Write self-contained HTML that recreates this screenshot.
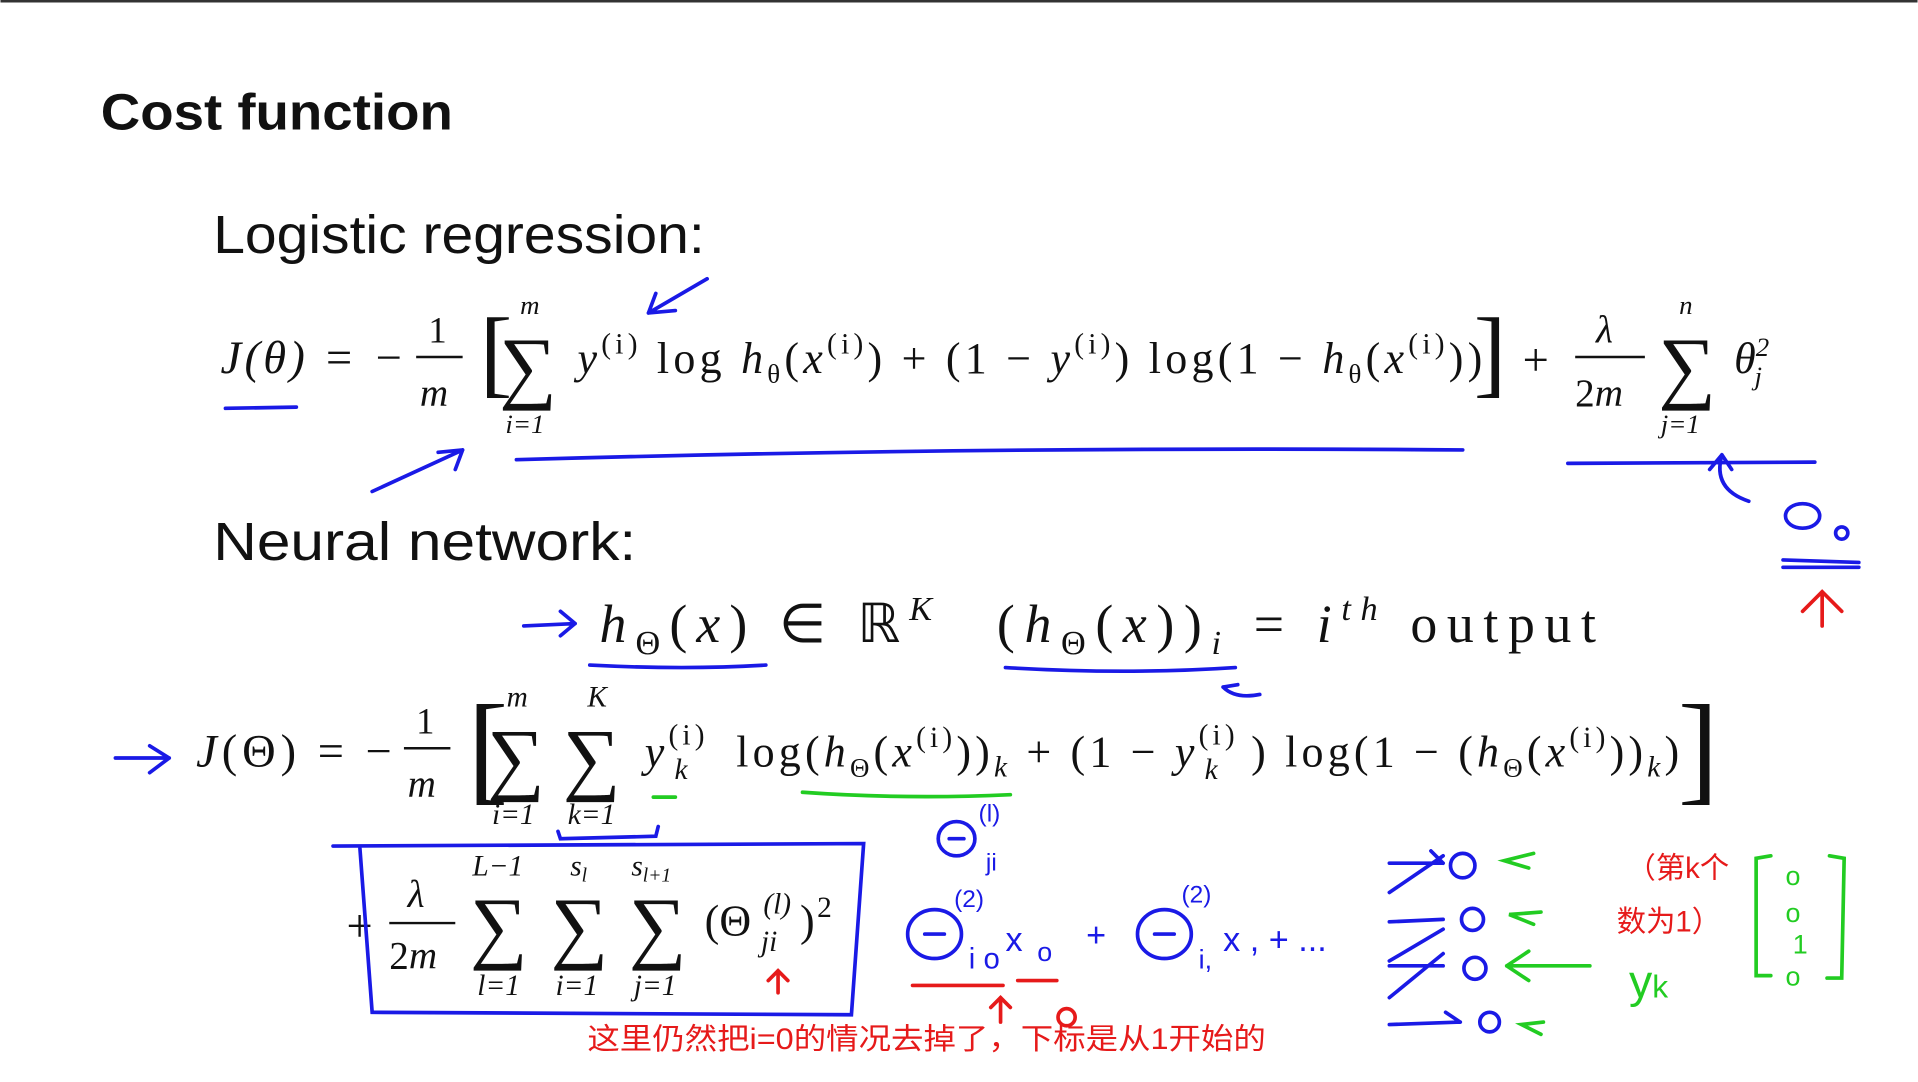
<!DOCTYPE html>
<html><head><meta charset="utf-8"><style>
html,body{margin:0;padding:0;background:#fff;}
svg{display:block}
.m{font-family:"Liberation Serif",serif;fill:#111}
.s{font-family:"Liberation Sans","DejaVu Sans",sans-serif;fill:#111}
.b{stroke:#1a1ae6;fill:none;stroke-width:3;stroke-linecap:round}
.g{stroke:#22cc22;fill:none;stroke-width:3;stroke-linecap:round}
.r{stroke:#e61a1a;fill:none;stroke-width:3;stroke-linecap:round}
</style></head><body>
<svg width="1918" height="1082" viewBox="0 0 1568 885" xmlns="http://www.w3.org/2000/svg">
<rect width="1568" height="885" fill="#fff"/>
<line x1="0" y1="1" x2="1568" y2="1" stroke="#333" stroke-width="2"/>
<text x="82" y="106" class="s" font-size="42" font-weight="bold" textLength="288" lengthAdjust="spacingAndGlyphs">Cost function</text>
<text x="174" y="207" class="s" font-size="44" textLength="402" lengthAdjust="spacingAndGlyphs">Logistic regression:</text>
<text x="174" y="458" class="s" font-size="44" textLength="346" lengthAdjust="spacingAndGlyphs">Neural network:</text>

<!-- logistic formula -->
<text x="180" y="305" class="m" font-size="38" font-style="italic" textLength="150" lengthAdjust="spacing">J(θ) = −</text>
<text x="350" y="280" class="m" font-size="30">1</text>
<line x1="340" y1="292" x2="378" y2="292" stroke="#111" stroke-width="2"/>
<text x="343" y="332" class="m" font-size="32" font-style="italic">m</text>
<text x="392" y="315" class="m" font-size="80" font-weight="100">[</text>
<text x="425" y="257" class="m" font-size="22" font-style="italic">m</text>
<text x="408" y="322" class="m" font-size="66">∑</text>
<text x="413" y="354" class="m" font-size="22" font-style="italic">i=1</text>
<text x="472" y="305" class="m" font-size="36" textLength="740" lengthAdjust="spacing"><tspan font-style="italic">y</tspan><tspan font-size="24" dy="-16">(i)</tspan><tspan dy="16"> log </tspan><tspan font-style="italic">h</tspan><tspan font-size="22" dy="8">θ</tspan><tspan dy="-8">(</tspan><tspan font-style="italic">x</tspan><tspan font-size="24" dy="-16">(i)</tspan><tspan dy="16">) + (1 − </tspan><tspan font-style="italic">y</tspan><tspan font-size="24" dy="-16">(i)</tspan><tspan dy="16">) log(1 − </tspan><tspan font-style="italic">h</tspan><tspan font-size="22" dy="8">θ</tspan><tspan dy="-8">(</tspan><tspan font-style="italic">x</tspan><tspan font-size="24" dy="-16">(i)</tspan><tspan dy="16">))</tspan></text>
<text x="1205" y="315" class="m" font-size="80">]</text>
<text x="1245" y="307" class="m" font-size="38">+</text>
<text x="1305" y="280" class="m" font-size="32" font-style="italic">λ</text>
<line x1="1288" y1="292" x2="1345" y2="292" stroke="#111" stroke-width="2"/>
<text x="1288" y="332" class="m" font-size="32">2<tspan font-style="italic">m</tspan></text>
<text x="1373" y="257" class="m" font-size="22" font-style="italic">n</text>
<text x="1356" y="322" class="m" font-size="66">∑</text>
<text x="1358" y="354" class="m" font-size="22" font-style="italic">j=1</text>
<text x="1418" y="305" class="m" font-size="36" font-style="italic">θ<tspan font-size="22" dy="-14">2</tspan><tspan font-size="22" dx="-12" dy="24">j</tspan></text>

<!-- h line -->
<text x="490" y="525" class="m" font-size="44" textLength="272" lengthAdjust="spacing"><tspan font-style="italic">h</tspan><tspan font-size="28" dy="10">Θ</tspan><tspan dy="-10">(</tspan><tspan font-style="italic">x</tspan>) ∈ ℝ<tspan font-size="28" dy="-18" font-style="italic">K</tspan></text>
<text x="815" y="525" class="m" font-size="44" textLength="490" lengthAdjust="spacing">(<tspan font-style="italic">h</tspan><tspan font-size="28" dy="10">Θ</tspan><tspan dy="-10">(</tspan><tspan font-style="italic">x</tspan>))<tspan font-size="28" dy="10" font-style="italic">i</tspan><tspan dy="-10"> = </tspan><tspan font-style="italic">i</tspan><tspan font-size="28" dy="-18" font-style="italic">th</tspan><tspan dy="18"> output</tspan></text>

<!-- NN formula -->
<text x="160" y="627" class="m" font-size="38" textLength="160" lengthAdjust="spacing"><tspan font-style="italic">J</tspan>(Θ) = −</text>
<text x="340" y="600" class="m" font-size="30">1</text>
<line x1="330" y1="612" x2="368" y2="612" stroke="#111" stroke-width="2"/>
<text x="333" y="652" class="m" font-size="32" font-style="italic">m</text>
<text x="382" y="645" class="m" font-size="100">[</text>
<text x="414" y="578" class="m" font-size="24" font-style="italic">m</text>
<text x="398" y="642" class="m" font-size="66">∑</text>
<text x="402" y="674" class="m" font-size="24" font-style="italic">i=1</text>
<text x="480" y="578" class="m" font-size="24" font-style="italic">K</text>
<text x="460" y="642" class="m" font-size="66">∑</text>
<text x="464" y="674" class="m" font-size="24" font-style="italic">k=1</text>
<text x="527" y="627" class="m" font-size="36" textLength="846" lengthAdjust="spacing"><tspan font-style="italic">y</tspan><tspan font-size="24" dy="-18">(i)</tspan><tspan font-size="24" font-style="italic" dx="-28" dy="28">k</tspan><tspan dx="24" dy="-10"> log(</tspan><tspan font-style="italic">h</tspan><tspan font-size="22" dy="8">Θ</tspan><tspan dy="-8">(</tspan><tspan font-style="italic">x</tspan><tspan font-size="24" dy="-16">(i)</tspan><tspan dy="16">))</tspan><tspan font-size="24" dy="8" font-style="italic">k</tspan><tspan dy="-8"> + (1 − </tspan><tspan font-style="italic">y</tspan><tspan font-size="24" dy="-18">(i)</tspan><tspan font-size="24" font-style="italic" dx="-28" dy="28">k</tspan><tspan dx="24" dy="-10">) log(1 − (</tspan><tspan font-style="italic">h</tspan><tspan font-size="22" dy="8">Θ</tspan><tspan dy="-8">(</tspan><tspan font-style="italic">x</tspan><tspan font-size="24" dy="-16">(i)</tspan><tspan dy="16">))</tspan><tspan font-size="24" dy="8" font-style="italic">k</tspan><tspan dy="-8">)</tspan></text>
<text x="1372" y="645" class="m" font-size="100">]</text>

<!-- reg term -->
<text x="283" y="770" class="m" font-size="38">+</text>
<text x="333" y="742" class="m" font-size="32" font-style="italic">λ</text>
<line x1="318" y1="755" x2="372" y2="755" stroke="#111" stroke-width="2"/>
<text x="318" y="792" class="m" font-size="32">2<tspan font-style="italic">m</tspan></text>
<text x="386" y="716" class="m" font-size="24" font-style="italic">L−1</text>
<text x="384" y="780" class="m" font-size="66">∑</text>
<text x="390" y="814" class="m" font-size="24" font-style="italic">l=1</text>
<text x="466" y="716" class="m" font-size="24" font-style="italic">s<tspan font-size="16" dy="5">l</tspan></text>
<text x="450" y="780" class="m" font-size="66">∑</text>
<text x="454" y="814" class="m" font-size="24" font-style="italic">i=1</text>
<text x="516" y="716" class="m" font-size="24" font-style="italic">s<tspan font-size="16" dy="5">l+1</tspan></text>
<text x="514" y="780" class="m" font-size="66">∑</text>
<text x="518" y="814" class="m" font-size="24" font-style="italic">j=1</text>
<text x="576" y="765" class="m" font-size="36">(Θ</text>
<text x="624" y="747" class="m" font-size="24" font-style="italic">(l)</text>
<text x="622" y="778" class="m" font-size="24" font-style="italic">ji</text>
<text x="654" y="765" class="m" font-size="36">)</text>
<text x="668" y="750" class="m" font-size="24">2</text>

<!-- blue annotations -->
<path class="b" d="M184 334 L242 333"/>
<path class="b" d="M530 256 L578 228 M530 256 L552 254 M530 256 L536 240"/>
<path class="b" d="M304 402 L378 368 M378 368 L358 370 M378 368 L372 384"/>
<path class="b" d="M422 376 Q800 365 1196 368"/>
<path class="b" d="M1282 379 L1484 378"/>
<path class="b" d="M1430 410 Q1400 400 1408 372 M1408 372 L1398 384 M1408 372 L1416 384"/>
<ellipse class="b" cx="1474" cy="422" rx="14" ry="10"/>
<circle class="b" cx="1506" cy="436" r="5"/>
<path class="b" d="M1458 458 L1520 460 M1458 464 L1520 464"/>
<path class="b" d="M428 512 L470 510 M470 510 L458 500 M470 510 L458 520"/>
<path class="b" d="M482 544 Q560 548 626 544"/>
<path class="b" d="M822 546 Q920 552 1010 546"/>
<path class="b" d="M1030 568 Q1010 572 1000 562 M1000 562 L1012 560"/>
<path class="b" d="M94 620 L138 620 M138 620 L122 610 M138 620 L122 632"/>
<path class="b" d="M456 680 L458 686 L536 684 L538 676"/>
<path class="b" d="M272 692 L706 690 L696 830 L304 828 L294 694"/>
<ellipse class="b" cx="782" cy="686" rx="15" ry="14"/><path class="b" d="M776 686 L788 686"/>
<text x="800" y="672" font-family="Liberation Sans" font-size="20" fill="#1a1ae6">(l)</text>
<text x="806" y="712" font-family="Liberation Sans" font-size="20" fill="#1a1ae6">ji</text>
<ellipse class="b" cx="764" cy="764" rx="22" ry="20"/><path class="b" d="M756 764 L772 764"/>
<text x="780" y="742" font-family="Liberation Sans" font-size="20" fill="#1a1ae6">(2)</text>
<text x="792" y="792" font-family="Liberation Sans" font-size="24" fill="#1a1ae6">i o</text>
<text x="822" y="778" font-family="Liberation Sans" font-size="28" fill="#1a1ae6">x</text>
<text x="848" y="786" font-family="Liberation Sans" font-size="22" fill="#1a1ae6">o</text>
<text x="888" y="774" font-family="Liberation Sans" font-size="28" fill="#1a1ae6">+</text>
<ellipse class="b" cx="952" cy="764" rx="22" ry="20"/><path class="b" d="M944 764 L960 764"/>
<text x="966" y="738" font-family="Liberation Sans" font-size="20" fill="#1a1ae6">(2)</text>
<text x="980" y="792" font-family="Liberation Sans" font-size="22" fill="#1a1ae6">i,</text>
<text x="1000" y="778" font-family="Liberation Sans" font-size="28" fill="#1a1ae6">x , + ...</text>
<path class="b" d="M1136 706 L1180 706 M1180 706 L1170 696 M1136 730 L1180 700 M1136 754 L1180 752 M1136 786 L1180 760 M1136 790 L1180 790 M1136 816 L1180 780 M1136 838 L1194 836 M1194 836 L1182 828"/>
<circle class="b" cx="1196" cy="708" r="10"/><circle class="b" cx="1204" cy="752" r="9"/><circle class="b" cx="1206" cy="792" r="9"/><circle class="b" cx="1218" cy="836" r="8"/>

<!-- green -->
<path class="g" d="M534 652 L552 652"/>
<path class="g" d="M656 648 Q740 654 826 650"/>
<path class="g" d="M1254 698 L1230 704 L1250 710 M1260 746 L1234 748 L1254 756 M1300 790 L1232 790 M1232 790 L1250 778 M1232 790 L1250 802 M1262 836 L1244 838 L1260 846"/>
<text x="1332" y="816" font-family="Liberation Sans" font-size="38" fill="#22cc22">y<tspan font-size="26">k</tspan></text>
<path class="g" d="M1448 700 L1436 702 L1436 798 L1448 798 M1496 700 L1508 702 L1506 800 L1494 800"/>
<text x="1460" y="724" font-family="Liberation Sans" font-size="22" fill="#22cc22">o</text>
<text x="1460" y="754" font-family="Liberation Sans" font-size="22" fill="#22cc22">o</text>
<text x="1466" y="780" font-family="Liberation Sans" font-size="22" fill="#22cc22">1</text>
<text x="1460" y="806" font-family="Liberation Sans" font-size="22" fill="#22cc22">o</text>

<!-- red -->
<path class="r" d="M1490 512 L1490 484 M1474 500 L1490 484 L1506 500"/>
<path class="r" d="M636 812 L636 794 M628 802 L636 794 L644 802"/>
<path class="r" d="M746 806 L820 806 M832 802 L864 802 M818 836 L818 816 M810 824 L818 816 L826 824"/>
<circle class="r" cx="872" cy="832" r="7"/>
<text x="1330" y="718" font-family="Liberation Sans,Noto Sans CJK SC,sans-serif" font-size="24" fill="#e61a1a">（第k个</text>
<text x="1322" y="762" font-family="Liberation Sans,Noto Sans CJK SC,sans-serif" font-size="24" fill="#e61a1a">数为1）</text>
<text x="480" y="858" font-family="Liberation Sans,Noto Sans CJK SC,sans-serif" font-size="24" fill="#e61a1a" textLength="555" lengthAdjust="spacingAndGlyphs">这里仍然把i=0的情况去掉了，下标是从1开始的</text>
</svg>
</body></html>
